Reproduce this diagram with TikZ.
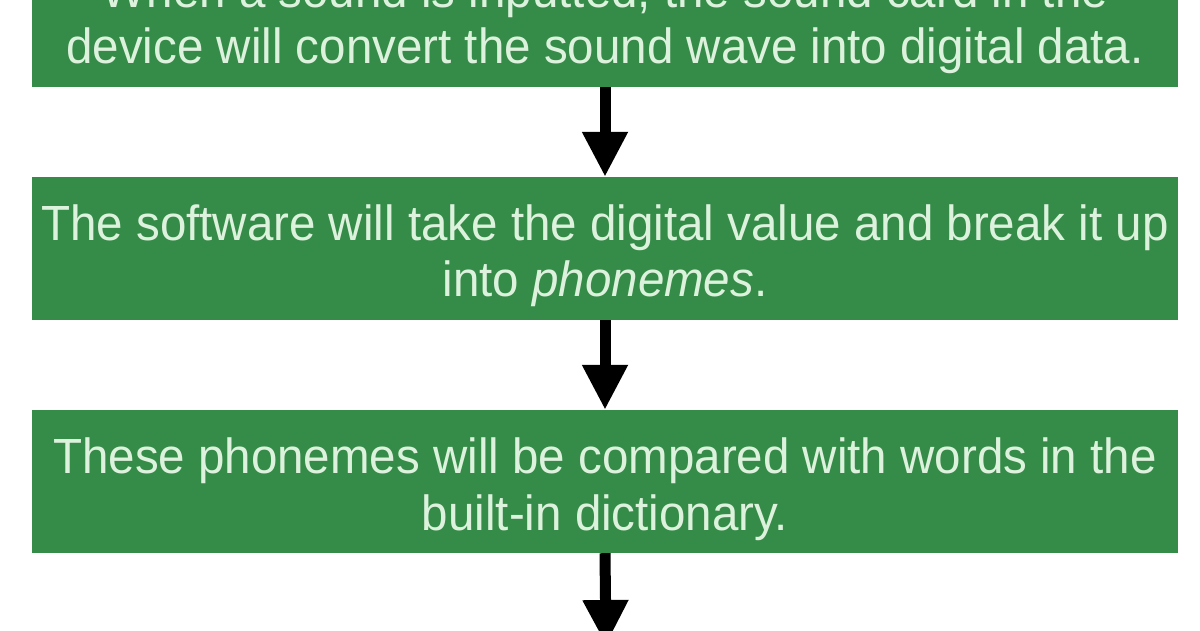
\documentclass[tikz,border=0pt]{standalone}
\usepackage{fontspec}
\setmainfont{Liberation Sans}
\usetikzlibrary{arrows.meta}
\definecolor{boxgreen}{HTML}{358C48}
\definecolor{txtgreen}{HTML}{DDF2DD}
\newcommand{\boxtext}[1]{\scalebox{1}[1.04]{\begin{tabular}[t]{@{}c@{}}#1\end{tabular}}}
\begin{document}
\begin{tikzpicture}[x=1pt,y=-1pt,
  box/.style={fill=boxgreen, draw=none, minimum width=1146pt, minimum height=143pt, inner sep=0pt,
    text=txtgreen, font=\fontsize{47.5}{54.8}\selectfont, text height=10pt, text depth=27pt},
  flow/.style={line width=11pt, -{Triangle[width=43pt,length=45pt]}}]
\useasboundingbox[fill=white] (0,0) rectangle (1200,630);
\node[box] (b1) at (605,15.5) {\boxtext{When a sound is inputted, the sound card in the\\device will convert the sound wave into digital data.}};
\node[box] (b2) at (605,248.5) {\boxtext{The software will take the digital value and break it up\\into \textit{phonemes}.}};
\node[box] (b3) at (605,481.5) {\boxtext{These phonemes will be compared with words in the\\built-in dictionary.}};
\coordinate (end) at (606,645);
\draw[flow] (b1.south) -- (b2.north);
\draw[flow] (b2.south) -- (b3.north);
\draw[flow] (b3.south) -- (end);
\end{tikzpicture}
\end{document}
